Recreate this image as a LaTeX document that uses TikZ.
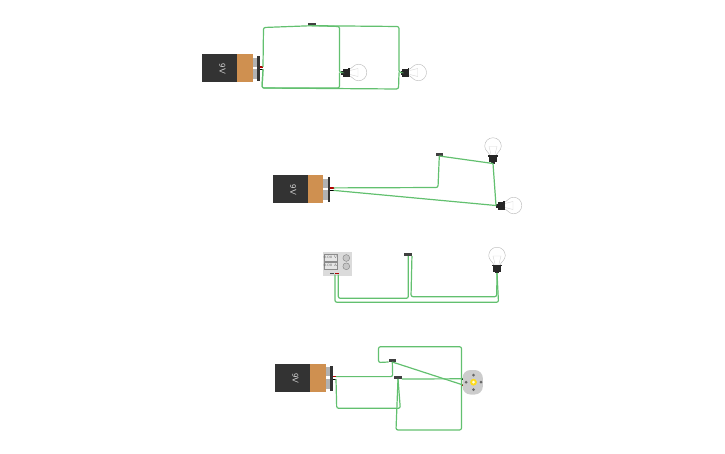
\documentclass[tikz,border=0pt]{standalone}
\definecolor{wiregreen}{HTML}{62C06F}
\definecolor{batdark}{HTML}{333333}
\definecolor{batcopper}{HTML}{CF9050}
\tikzset{
    wire/.style={draw=wiregreen,line width=1.2pt,rounded corners=2pt},
    switchbox/.style={fill=black!75,minimum width=7.5pt,minimum height=3pt,inner sep=0pt,outer sep=0pt},
    battery/.pic={
        \fill[batdark] (0,0) rectangle (35.3,28);
        \fill[batcopper] (35.3,0) rectangle (50.7,28);
        \fill[black!30] (50.7,3.4) rectangle (55,12.4);
        \fill[black!30] (50.7,15) rectangle (55,24.7);
        \fill[black!80] (55,1.7) rectangle (57.7,27);
        \fill[red!70!black] (57.7,12) rectangle (61,13.2);
        \fill[black] (57.7,14.6) rectangle (61,15.6);
        \node[text=white!85!black,rotate=-90,font=\sffamily\fontsize{8.5}{9}\selectfont,inner sep=0pt] (-label) at (20.5,14.5) {9V};
        \coordinate (-plus) at (61,12.6);
        \coordinate (-minus) at (61,15.1);
    },
    bulb/.pic={
        \draw[black!28,line width=0.4pt,fill=white] (8,-3) .. controls (11,-4) and (13,-8.3) .. (17.5,-8.3)
            arc (-90:90:8.3) .. controls (13,8.3) and (11,4) .. (8,3) -- cycle;
        \draw[black!15,line width=0.4pt] (9,-2) -- (17,-4) -- (17,4) -- (9,2);
        \fill[black!85] (1.5,-4) rectangle (8,4);
        \fill[black!85] (0,-2) rectangle (1.5,2);
        \fill[black!85] (7,-4.7) rectangle (8.5,4.7);
        \coordinate (-tip) at (0,0);
    },
    supply/.pic={
        \fill[black!14] (0,0) rectangle (29,23.7);
        \foreach \y/\txt in {1.8/0.00 V,10/0.00 A} {
            \node[draw=black!45,fill=white!90!black,line width=0.4pt,minimum width=12.5pt,minimum height=6.5pt,inner sep=0pt,
                text=black!70,font=\fontsize{3.5}{4}\selectfont,anchor=north west] (-d\y) at (0.8,\y) {\txt};
        }
        \foreach \y in {5.7,14} {
            \draw[black!50,fill=black!22,line width=0.4pt] (23.6,\y) circle (3.4);
        }
        \fill[black!70] (7,20.3) rectangle (11,22);
        \fill[red!70!black] (12.5,20.3) rectangle (16.5,22);
        \coordinate (-minus) at (12.3,22.3);
        \coordinate (-plus) at (15.6,22.3);
    },
    motor/.pic={
        \fill[black!20,rounded corners=8pt] (0,0) rectangle (20.3,24.5);
        \foreach \p in {(11,5),(11,19.5),(3.6,12.2),(18.5,12.2)} {
            \fill[black!60] \p circle (1.5);
        }
        \fill[yellow!75!orange!90!white] (11,12.2) circle (3.4);
        \fill[white!90!yellow] (11,12.2) circle (1.5);
        \fill[black] (-0.8,8) rectangle (0.8,9.6);
        \fill[red!70!black] (-0.8,14) rectangle (0.8,15.6);
        \coordinate (-minus) at (0,8.8);
        \coordinate (-plus) at (0,14.8);
    },
}
\begin{document}
\begin{tikzpicture}[x=1pt,y=-1pt]
    \useasboundingbox (0,0) rectangle (725,453);
    %% Two bulbs side by side
    \pic (batA) at (202,54.3) {battery};
    \pic (bulbA) at (341,72.5) {bulb};
    \pic (bulbB) at (400.7,72.5) {bulb};
    \node[switchbox] (swA) at (312,24.2) {};
    \draw[wire] (batA-plus) -- (263.5,27.5) -- (swA.south);
    \draw[wire] (swA.south) -- (339.5,26.5) -- (339.5,72.5) -- (bulbA-tip);
    \draw[wire] (swA.south) -- (399,26.5) -- (399,72.5) -- (bulbB-tip);
    \draw[wire] (batA-minus) -- (262,88) -- (339.5,88) -- (339.5,72.5);
    \draw[wire] (batA-minus) -- (262,88) -- (398.5,89) -- (399,72.5);
    %% Two bulbs in a row
    \pic (batB) at (272.7,175.3) {battery};
    \pic[rotate=90] (bulbC) at (493,163.5) {bulb};
    \pic (bulbD) at (496,205.5) {bulb};
    \node[switchbox] (swB) at (439.3,154.5) {};
    \draw[wire] (batB-plus) -- (438,187.5) -- (swB.south);
    \draw[wire] (swB.south) -- (bulbC-tip);
    \draw[wire] (bulbC-tip) -- (bulbD-tip);
    \draw[wire] (batB-minus) -- (bulbD-tip);
    %% Power supply
    \pic (psu) at (322.7,252.3) {supply};
    \pic[rotate=90] (bulbE) at (497,273) {bulb};
    \node[switchbox] (swC) at (408.2,254.5) {};
    \draw[wire] (psu-minus) -- (335,302.3) -- (498.5,302.3) -- (bulbE-tip);
    \draw[wire] (psu-plus) -- (338.3,298.3) -- (408.3,298.3) -- (swC.south);
    \draw[wire] (swC.south east) -- (411,296.7) -- (496.7,296.7) -- (bulbE-tip);
    %% Motor with two switches
    \pic (batC) at (275,364) {battery};
    \pic (mot) at (462.5,370) {motor};
    \node[switchbox] (swD) at (392.3,360.5) {};
    \node[switchbox] (swE) at (398,377.5) {};
    \draw[wire] (batC-plus) -- (392.7,376.6) -- (swD.south);
    \draw[wire] (swD.south west) -- (378.5,362.5) -- (378.5,346.7) -- (461.5,346.7) -- (461.5,430) -- (396,430) -- (swE.south);
    \draw[wire] (swD.south) -- (mot-plus);
    \draw[wire] (swE.south east) -- (mot-minus);
    \draw[wire] (batC-minus) -- (336.7,408.3) -- (400.3,408.3) -- (swE.south);
\end{tikzpicture}
\end{document}
